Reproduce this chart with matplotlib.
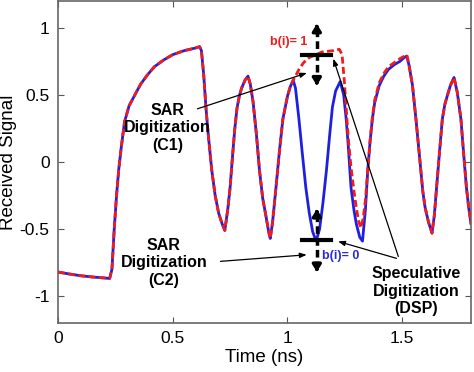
import numpy as np
import matplotlib.pyplot as plt

plt.rcParams['font.family'] = ['Liberation Sans', 'DejaVu Sans']

# shared part of the waveform (both decisions agree here)
t_common = [0.00, 0.05, 0.10, 0.15, 0.20, 0.225, 0.235, 0.245, 0.255, 0.265,
            0.275, 0.29, 0.31, 0.335, 0.36, 0.39, 0.42, 0.46, 0.50, 0.55,
            0.60, 0.617, 0.625, 0.635, 0.645, 0.655, 0.67, 0.685, 0.70, 0.715,
            0.727, 0.74, 0.75, 0.76, 0.77, 0.78, 0.79, 0.80, 0.815, 0.828,
            0.838, 0.85, 0.865, 0.878, 0.892, 0.907, 0.918, 0.925, 0.935, 0.95,
            0.965, 0.98, 1.00, 1.012, 1.025]
v_common = [-0.82, -0.835, -0.848, -0.857, -0.864, -0.868, -0.80, -0.50, -0.25, -0.05,
            0.10, 0.30, 0.42, 0.50, 0.58, 0.65, 0.71, 0.76, 0.80, 0.83,
            0.85, 0.86, 0.83, 0.65, 0.40, 0.20, -0.06, -0.25, -0.38, -0.46,
            -0.51, -0.35, -0.19, 0.03, 0.24, 0.40, 0.49, 0.55, 0.61, 0.64,
            0.58, 0.45, 0.20, -0.06, -0.27, -0.41, -0.52, -0.57, -0.45, -0.19,
            0.08, 0.32, 0.49, 0.56, 0.61]

# b(i) = 0 branch (blue)
t_blue_tail = [1.035, 1.05, 1.065, 1.08, 1.095, 1.11, 1.125, 1.14, 1.155, 1.17,
               1.185, 1.196, 1.21, 1.23, 1.245, 1.256, 1.265, 1.277, 1.29, 1.30,
               1.315, 1.327, 1.34, 1.35, 1.36, 1.37, 1.38, 1.40, 1.42, 1.44,
               1.465, 1.49, 1.51, 1.52, 1.53, 1.545, 1.56, 1.574, 1.59, 1.60,
               1.615, 1.63, 1.64, 1.65, 1.662, 1.675, 1.686, 1.696, 1.71, 1.726,
               1.74, 1.756, 1.768, 1.78, 1.79, 1.80]
v_blue_tail = [0.55, 0.32, 0.06, -0.19, -0.38, -0.52, -0.59, -0.50, -0.30, -0.06,
               0.22, 0.41, 0.53, 0.60, 0.50, 0.32, 0.12, -0.19, -0.36, -0.46,
               -0.56, -0.59, -0.35, -0.06, 0.15, 0.32, 0.44, 0.57, 0.64, 0.69,
               0.725, 0.75, 0.78, 0.79, 0.72, 0.57, 0.32, 0.07, -0.22, -0.34,
               -0.45, -0.53, -0.40, -0.19, 0.06, 0.32, 0.43, 0.49, 0.57, 0.63,
               0.52, 0.32, 0.06, -0.19, -0.34, -0.46]

# b(i) = 1 branch (red dashed)
t_red_tail = [1.035, 1.05, 1.07, 1.096, 1.125, 1.15, 1.20, 1.226, 1.238, 1.248,
              1.256, 1.265, 1.277, 1.29, 1.30, 1.31, 1.32, 1.33, 1.34, 1.35,
              1.36, 1.37, 1.38, 1.40, 1.42, 1.44, 1.465, 1.49, 1.51, 1.52,
              1.53, 1.545, 1.56, 1.574, 1.59, 1.60, 1.615, 1.63, 1.64, 1.65,
              1.662, 1.675, 1.686, 1.696, 1.71, 1.726, 1.74, 1.756, 1.768, 1.78,
              1.79, 1.80]
v_red_tail = [0.64, 0.69, 0.74, 0.78, 0.80, 0.82, 0.83, 0.84, 0.80, 0.60,
              0.40, 0.18, -0.04, -0.22, -0.34, -0.44, -0.49, -0.42, -0.28, -0.06,
              0.16, 0.33, 0.46, 0.59, 0.66, 0.71, 0.74, 0.77, 0.79, 0.80,
              0.72, 0.57, 0.32, 0.07, -0.22, -0.34, -0.45, -0.53, -0.40, -0.19,
              0.06, 0.32, 0.43, 0.49, 0.57, 0.63, 0.52, 0.32, 0.06, -0.19,
              -0.34, -0.46]

t_blue = t_common + t_blue_tail
v_blue = v_common + v_blue_tail
t_red = t_common + t_red_tail
v_red = v_common + v_red_tail

# decision markers: (time, level, arrow top, arrow bottom)
mark_t = 1.128
mark_hi, mark_lo = 0.80, -0.58
bar_half = 0.063

fig = plt.figure(figsize=(4.74, 3.72), dpi=100)
ax = fig.add_axes([0.1224, 0.1317, 0.8713, 0.8656])

ax.plot(t_blue, v_blue, color='#1f1fe0', lw=2.0, zorder=2)
ax.plot(t_red, v_red, color='#ee1c1c', lw=2.0, ls=(0, (2.5, 1.2)), zorder=3)

# thick bars + dashed up/down arrows
for lvl, top, bot in [(mark_hi, 1.05, 0.55), (mark_lo, -0.33, -0.84)]:
    ax.plot([mark_t - bar_half, mark_t + bar_half], [lvl, lvl], color='black', lw=3, zorder=5)
    ax.plot([mark_t, mark_t], [top - 0.06, bot + 0.06], color='black', lw=2.5,
            ls=(0, (2.2, 1.2)), zorder=5)
    ax.annotate('', xy=(mark_t, top), xytext=(mark_t, top - 0.07),
                arrowprops=dict(arrowstyle='-|>,head_width=0.25,head_length=0.4',
                                color='black', lw=2.5), zorder=5)
    ax.annotate('', xy=(mark_t, bot), xytext=(mark_t, bot + 0.07),
                arrowprops=dict(arrowstyle='-|>,head_width=0.25,head_length=0.4',
                                color='black', lw=2.5), zorder=5)

ax.text(1.087, 0.895, 'b(i)= 1', color='#ee1c1c', fontsize=9, fontweight='bold',
        ha='right', va='center')
ax.text(1.152, -0.70, 'b(i)= 0', color='#2a2ae0', fontsize=9, fontweight='bold',
        ha='left', va='center')

tfont = dict(fontsize=11.5, fontweight='bold', ha='center', va='center', linespacing=1.2)
ax.text(0.478, 0.256, 'SAR\nDigitization\n(C1)', **tfont)
ax.text(0.461, -0.752, 'SAR\nDigitization\n(C2)', **tfont)
ax.text(1.561, -0.962, 'Speculative\nDigitization\n(DSP)', **tfont)

arr = dict(arrowstyle='-|>,head_width=0.15,head_length=0.4', color='black', lw=0.9)
ax.annotate('', xy=(1.096, 0.67), xytext=(0.596, 0.39), arrowprops=arr)
ax.annotate('', xy=(1.096, -0.69), xytext=(0.696, -0.742), arrowprops=arr)
ax.annotate('', xy=(1.196, 0.79), xytext=(1.487, -0.724), arrowprops=arr)
ax.annotate('', xy=(1.209, -0.586), xytext=(1.487, -0.724), arrowprops=arr)

ax.set_xlim(0, 1.8)
ax.set_ylim(-1.2, 1.2)
ax.set_xticks([0, 0.5, 1, 1.5])
ax.set_xticklabels(['0', '0.5', '1', '1.5'])
ax.set_yticks([-1, -0.5, 0, 0.5, 1])
ax.set_yticklabels(['-1', '-0.5', '0', '0.5', '1'])
ax.tick_params(direction='in', top=True, right=True, labelsize=12.5, length=4,
               color='#555555', pad=6)
for s in ax.spines.values():
    s.set_color('#666666')
    s.set_linewidth(1.2)

ax.set_xlabel('Time (ns)', fontsize=13.5, labelpad=2)
ax.set_ylabel('Received Signal', fontsize=13.5, labelpad=2)

fig.savefig('out.png', dpi=100)
